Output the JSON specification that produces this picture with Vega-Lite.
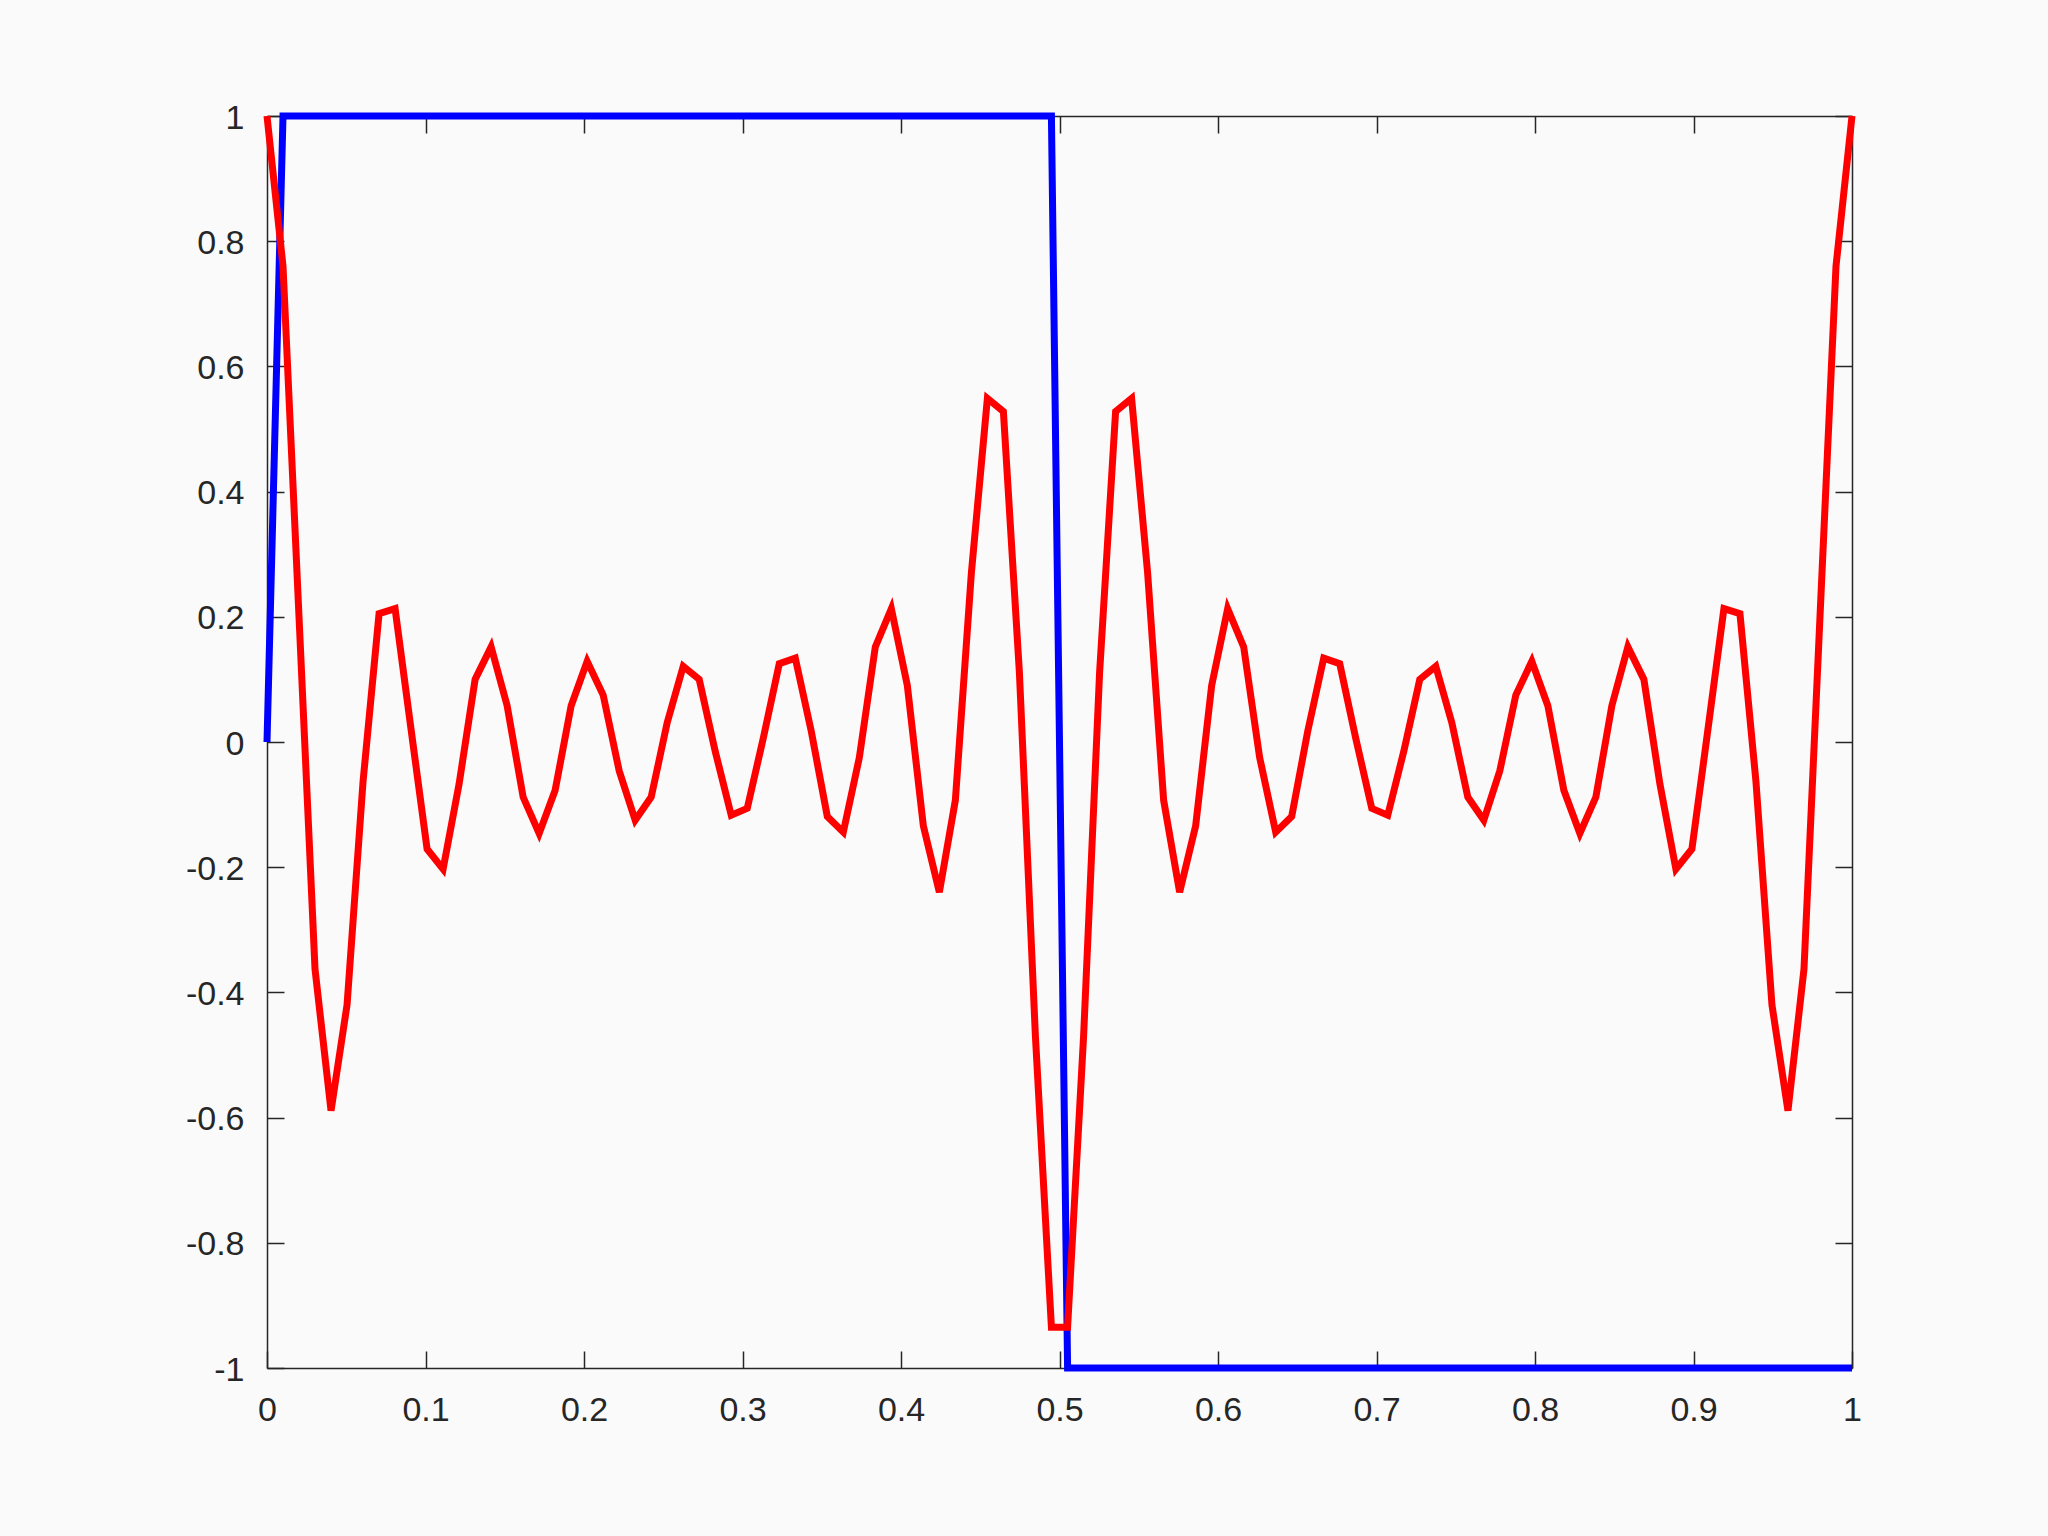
{
  "$schema": "https://vega.github.io/schema/vega-lite/v6.json",
  "description": "Square wave and its approximation, MATLAB style",
  "autosize": "none",
  "padding": {"left": 267, "top": 116, "right": 196, "bottom": 168},
  "width": 1585,
  "height": 1252,
  "background": "#fafafa",
  "config": {
    "view": {"stroke": null},
    "axis": {
      "grid": false,
      "domainColor": "#262626",
      "domainWidth": 1.5,
      "tickColor": "#262626",
      "tickWidth": 1.5,
      "tickSize": -17,
      "labelFont": "Liberation Sans",
      "labelFontSize": 34,
      "labelColor": "#262626",
      "title": null
    }
  },
  "data": {
    "values": [
      {"x": 0, "square": 0, "approx": 1.0},
      {"x": 0.0101, "square": 1, "approx": 0.76},
      {"x": 0.0202, "square": 1, "approx": 0.2},
      {"x": 0.0303, "square": 1, "approx": -0.363},
      {"x": 0.0404, "square": 1, "approx": -0.589},
      {"x": 0.0505, "square": 1, "approx": -0.42},
      {"x": 0.0606, "square": 1, "approx": -0.063},
      {"x": 0.0707, "square": 1, "approx": 0.205},
      {"x": 0.0808, "square": 1, "approx": 0.213},
      {"x": 0.0909, "square": 1, "approx": 0.02},
      {"x": 0.1010, "square": 1, "approx": -0.171},
      {"x": 0.1111, "square": 1, "approx": -0.203},
      {"x": 0.1212, "square": 1, "approx": -0.067},
      {"x": 0.1313, "square": 1, "approx": 0.1},
      {"x": 0.1414, "square": 1, "approx": 0.152},
      {"x": 0.1515, "square": 1, "approx": 0.058},
      {"x": 0.1616, "square": 1, "approx": -0.088},
      {"x": 0.1717, "square": 1, "approx": -0.146},
      {"x": 0.1818, "square": 1, "approx": -0.077},
      {"x": 0.1919, "square": 1, "approx": 0.058},
      {"x": 0.2020, "square": 1, "approx": 0.129},
      {"x": 0.2121, "square": 1, "approx": 0.075},
      {"x": 0.2222, "square": 1, "approx": -0.046},
      {"x": 0.2323, "square": 1, "approx": -0.125},
      {"x": 0.2424, "square": 1, "approx": -0.088},
      {"x": 0.2525, "square": 1, "approx": 0.031},
      {"x": 0.2626, "square": 1, "approx": 0.121},
      {"x": 0.2727, "square": 1, "approx": 0.1},
      {"x": 0.2828, "square": 1, "approx": -0.015},
      {"x": 0.2929, "square": 1, "approx": -0.117},
      {"x": 0.3030, "square": 1, "approx": -0.106},
      {"x": 0.3131, "square": 1, "approx": 0.006},
      {"x": 0.3232, "square": 1, "approx": 0.125},
      {"x": 0.3333, "square": 1, "approx": 0.134},
      {"x": 0.3434, "square": 1, "approx": 0.017},
      {"x": 0.3535, "square": 1, "approx": -0.119},
      {"x": 0.3636, "square": 1, "approx": -0.144},
      {"x": 0.3737, "square": 1, "approx": -0.025},
      {"x": 0.3838, "square": 1, "approx": 0.152},
      {"x": 0.3939, "square": 1, "approx": 0.213},
      {"x": 0.4040, "square": 1, "approx": 0.09},
      {"x": 0.4141, "square": 1, "approx": -0.134},
      {"x": 0.4242, "square": 1, "approx": -0.24},
      {"x": 0.4343, "square": 1, "approx": -0.093},
      {"x": 0.4444, "square": 1, "approx": 0.27},
      {"x": 0.4545, "square": 1, "approx": 0.549},
      {"x": 0.4646, "square": 1, "approx": 0.528},
      {"x": 0.4747, "square": 1, "approx": 0.111},
      {"x": 0.4848, "square": 1, "approx": -0.47},
      {"x": 0.4949, "square": 1, "approx": -0.935},
      {"x": 0.5051, "square": -1, "approx": -0.935},
      {"x": 0.5152, "square": -1, "approx": -0.47},
      {"x": 0.5253, "square": -1, "approx": 0.111},
      {"x": 0.5354, "square": -1, "approx": 0.528},
      {"x": 0.5455, "square": -1, "approx": 0.549},
      {"x": 0.5556, "square": -1, "approx": 0.27},
      {"x": 0.5657, "square": -1, "approx": -0.093},
      {"x": 0.5758, "square": -1, "approx": -0.24},
      {"x": 0.5859, "square": -1, "approx": -0.134},
      {"x": 0.5960, "square": -1, "approx": 0.09},
      {"x": 0.6061, "square": -1, "approx": 0.213},
      {"x": 0.6162, "square": -1, "approx": 0.152},
      {"x": 0.6263, "square": -1, "approx": -0.025},
      {"x": 0.6364, "square": -1, "approx": -0.144},
      {"x": 0.6465, "square": -1, "approx": -0.119},
      {"x": 0.6566, "square": -1, "approx": 0.017},
      {"x": 0.6667, "square": -1, "approx": 0.134},
      {"x": 0.6768, "square": -1, "approx": 0.125},
      {"x": 0.6869, "square": -1, "approx": 0.006},
      {"x": 0.6970, "square": -1, "approx": -0.106},
      {"x": 0.7071, "square": -1, "approx": -0.117},
      {"x": 0.7172, "square": -1, "approx": -0.015},
      {"x": 0.7273, "square": -1, "approx": 0.1},
      {"x": 0.7374, "square": -1, "approx": 0.121},
      {"x": 0.7475, "square": -1, "approx": 0.031},
      {"x": 0.7576, "square": -1, "approx": -0.088},
      {"x": 0.7677, "square": -1, "approx": -0.125},
      {"x": 0.7778, "square": -1, "approx": -0.046},
      {"x": 0.7879, "square": -1, "approx": 0.075},
      {"x": 0.7980, "square": -1, "approx": 0.129},
      {"x": 0.8081, "square": -1, "approx": 0.058},
      {"x": 0.8182, "square": -1, "approx": -0.077},
      {"x": 0.8283, "square": -1, "approx": -0.146},
      {"x": 0.8384, "square": -1, "approx": -0.088},
      {"x": 0.8485, "square": -1, "approx": 0.058},
      {"x": 0.8586, "square": -1, "approx": 0.152},
      {"x": 0.8687, "square": -1, "approx": 0.1},
      {"x": 0.8788, "square": -1, "approx": -0.067},
      {"x": 0.8889, "square": -1, "approx": -0.203},
      {"x": 0.8990, "square": -1, "approx": -0.171},
      {"x": 0.9091, "square": -1, "approx": 0.02},
      {"x": 0.9192, "square": -1, "approx": 0.213},
      {"x": 0.9293, "square": -1, "approx": 0.205},
      {"x": 0.9394, "square": -1, "approx": -0.063},
      {"x": 0.9495, "square": -1, "approx": -0.42},
      {"x": 0.9596, "square": -1, "approx": -0.589},
      {"x": 0.9697, "square": -1, "approx": -0.363},
      {"x": 0.9798, "square": -1, "approx": 0.2},
      {"x": 0.9899, "square": -1, "approx": 0.76},
      {"x": 1, "square": -1, "approx": 1.0}
    ]
  },
  "layer": [
    {
      "mark": {"type": "line", "color": "#0000ff", "strokeWidth": 7, "strokeJoin": "miter", "clip": false},
      "encoding": {
        "x": {
          "field": "x", "type": "quantitative",
          "scale": {"domain": [0, 1], "nice": false, "zero": false},
          "axis": {
            "orient": "bottom",
            "values": [0, 0.1, 0.2, 0.3, 0.4, 0.5, 0.6, 0.7, 0.8, 0.9, 1],
            "labelExpr": "'' + datum.value",
            "labelPadding": 42,
            "labelFlush": false,
            "labelOverlap": false
          }
        },
        "y": {
          "field": "square", "type": "quantitative",
          "scale": {"domain": [-1, 1], "nice": false, "zero": false},
          "axis": {
            "orient": "left",
            "values": [-1, -0.8, -0.6, -0.4, -0.2, 0, 0.2, 0.4, 0.6, 0.8, 1],
            "labelExpr": "'' + datum.value",
            "labelPadding": 40,
            "labelOffset": 2,
            "labelFlush": false,
            "labelOverlap": false
          }
        }
      }
    },
    {
      "mark": {"type": "line", "color": "#ff0000", "strokeWidth": 7, "strokeJoin": "miter", "clip": false},
      "encoding": {
        "x": {
          "field": "x", "type": "quantitative",
          "axis": {
            "orient": "top",
            "values": [0, 0.1, 0.2, 0.3, 0.4, 0.5, 0.6, 0.7, 0.8, 0.9, 1],
            "labels": false
          }
        },
        "y": {
          "field": "approx", "type": "quantitative",
          "axis": {
            "orient": "right",
            "values": [-1, -0.8, -0.6, -0.4, -0.2, 0, 0.2, 0.4, 0.6, 0.8, 1],
            "labels": false
          }
        }
      }
    }
  ],
  "resolve": {"axis": {"x": "independent", "y": "independent"}}
}
